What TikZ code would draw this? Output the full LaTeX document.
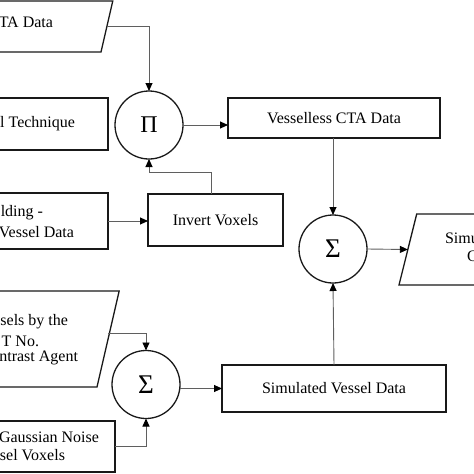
\documentclass[tikz,border=0pt]{standalone}
\usepackage{fontspec}
\setmainfont{Liberation Serif}
\usetikzlibrary{shapes.geometric, arrows.meta, positioning, calc}
\definecolor{boxline}{RGB}{25,25,25}
\definecolor{flowline}{RGB}{95,95,95}
\tikzset{
    procbox/.style={rectangle, draw=boxline, line width=1.3pt, outer sep=0pt, inner sep=0pt, align=center},
    databox/.style={trapezium, draw=boxline, line width=1.3pt, outer sep=0pt, inner xsep=100pt, minimum width=0pt, minimum height=0pt},
    opcircle/.style={circle, draw=boxline, line width=1.3pt, minimum size=68pt, inner sep=0pt, outer sep=0pt},
    arrow/.style={-{Triangle[length=8pt, width=7pt, color=black]}, flowline, line width=0.9pt},
}

\begin{document}
\begin{tikzpicture}[
    x=1pt, y=-1pt,
    font=\fontsize{16}{18}\selectfont,
    lbl/.style={inner sep=0pt, outer sep=0pt}
]
\useasboundingbox (0,0) rectangle (474,474);

% Left column (cut at the picture edge)
\node[databox, trapezium left angle=77, trapezium right angle=103, inner ysep=25.5pt, anchor=bottom right corner] (cta) at (101,52) {};
\node[procbox, minimum width=220pt, minimum height=52pt, anchor=east] (tech) at (108,124) {};
\node[procbox, minimum width=220pt, minimum height=56pt, anchor=east] (thresh) at (108,221) {};
\node[databox, trapezium left angle=77, trapezium right angle=103, inner ysep=48pt, anchor=bottom right corner] (weight) at (97,387) {};
\node[procbox, minimum width=220pt, minimum height=51pt, anchor=east] (noise) at (115,446.5) {};

% Visible parts of their texts
\node[lbl, anchor=east] (cta-txt) at (53,22) {TA Data};
\node[lbl, anchor=east] (tech-txt) at (75,124) {l Technique};
\node[lbl, anchor=east] (thresh-txt1) at (43,213) {lding -};
\node[lbl, anchor=east] (thresh-txt2) at (74,232) {Vessel Data};
\node[lbl, anchor=east] (weight-txt1) at (68,322) {sels by the};
\node[lbl, anchor=east] (weight-txt2) at (39,341) {T No.};
\node[lbl, anchor=east] (weight-txt3) at (78,358) {ntrast Agent};
\node[lbl, anchor=east] (noise-txt1) at (99,437) {Gaussian Noise};
\node[lbl, anchor=east] (noise-txt2) at (65,455) {sel Voxels};

% Operators
\node[opcircle] (pi) at (149,125) {\fontsize{24}{24}\selectfont Π};
\node[opcircle] (sig1) at (146,384.5) {\fontsize{27}{27}\selectfont Σ};
\node[opcircle] (sig2) at (333,249) {\fontsize{27}{27}\selectfont Σ};

% Middle boxes
\node[procbox, minimum width=212pt, minimum height=40pt] (vless) at (334,118) {Vesselless CTA Data};
\node[procbox, minimum width=135pt, minimum height=52pt] (invert) at (215.5,220) {Invert Voxels};
\node[procbox, minimum width=224pt, minimum height=47pt] (simv) at (334,388.5) {Simulated Vessel Data};

% Output (cut at the right edge)
\node[databox, trapezium left angle=76, trapezium right angle=104, inner ysep=35.5pt, anchor=bottom left corner] (simcta) at (399,285) {};
\node[lbl, anchor=west] (simcta-txt1) at (445,238) {Simu};
\node[lbl, anchor=west] (simcta-txt2) at (467,256) {C};

% Arrows
\draw[arrow] (cta.east) -| (pi.north);
\draw[arrow] (pi.east) -- (pi.east -| vless.west);
\draw[arrow] (thresh.east) -- (thresh.east -| invert.west);
\draw[arrow] ([xshift=-4pt]invert.north) -- ++(0,-22) -| (pi.south);
\draw[arrow] ([yshift=6pt]weight.east) -| (sig1.north);
\draw[arrow] (noise.east) -| (sig1.south);
\draw[arrow] (sig1.east |- simv.west) -- (simv.west);
\draw[arrow] (vless.south) -- (vless.south -| sig2.north) -- (sig2.north);
\draw[arrow] (simv.north) -- (sig2.south);
\draw[arrow] (sig2.east) -- (simcta.west);

\end{tikzpicture}
\end{document}
